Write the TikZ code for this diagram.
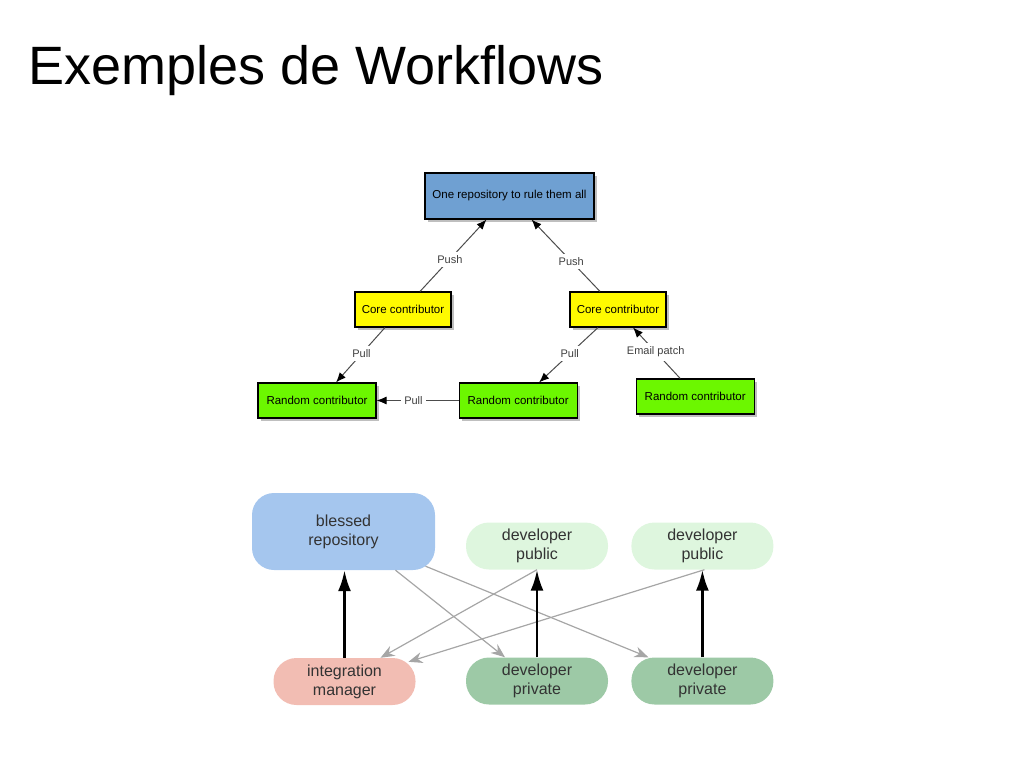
\documentclass[tikz,border=0pt]{standalone}
\usepackage{fontspec}
\setmainfont{Liberation Sans}
\usetikzlibrary{positioning,arrows.meta,shadows}

\definecolor{repoblue}{HTML}{6FA0D2}
\definecolor{coreyellow}{HTML}{FFFA00}
\definecolor{randgreen}{HTML}{6CF700}
\definecolor{blessedblue}{HTML}{A5C6EE}
\definecolor{pubgreen}{HTML}{DEF6DE}
\definecolor{privgreen}{HTML}{9DC9A6}
\definecolor{intpink}{HTML}{F2BDB3}

\tikzset{
  box/.style={draw=black, line width=1.1pt, minimum height=35pt,
    font=\fontsize{11.5}{13}\selectfont,
    drop shadow={opacity=0.5, shadow xshift=2.5pt, shadow yshift=-2.5pt}},
  mainrepo/.style={box, fill=repoblue, minimum width=169pt, minimum height=46pt},
  core/.style={box, fill=coreyellow, minimum width=96pt},
  random/.style={box, fill=randgreen, minimum width=118pt},
  flow/.style={draw=black!70, line width=1pt, -{Latex[length=10pt,width=8pt,black]}},
  lbl/.style={fill=white, inner sep=3.5pt, text=black!75, font=\fontsize{11}{12}\selectfont},
  pill/.style={rounded corners=23pt, minimum width=142pt, minimum height=47pt,
    align=center, text=black!80, font=\fontsize{16}{19}\selectfont},
  share/.style={draw=black!35, line width=1.2pt, -{Stealth[length=14pt,width=11pt]}},
  push/.style={draw=black, line width=2.8pt, -{Latex[length=21pt,width=13pt]}},
}

\begin{document}
\begin{tikzpicture}[x=1pt, y=-1pt]
        \useasboundingbox (0,0) rectangle (1024,768);

        % TITLE
        % -----------------
        \node[anchor=base west, inner sep=0pt, font=\fontsize{54}{60}\selectfont] (title) at (28,84) {Exemples de Workflows};

        % NODES (centralized)
        % -----------------

        \node[mainrepo]               (repo)  at (509.5,196) {One repository to rule them all};
        \node[core]                   (coreL) at (403,309.5) {Core contributor};
        \node[core]                   (coreR) at (618,309.5) {Core contributor};
        \node[random]                 (rand1) at (317,400.5) {Random contributor};
        \node[random, right=82pt of rand1]             (rand2) {Random contributor};
        \node[random, right=58pt of rand2, yshift=4pt] (rand3) {Random contributor};

        % EDGES (centralized)
        % -----------------

        \draw[flow] ([xshift=17pt]coreL.north) -- node[lbl, pos=0.45] {Push} ([xshift=-23pt]repo.south);
        \draw[flow] ([xshift=-18pt]coreR.north) -- node[lbl, pos=0.42] {Push} ([xshift=22pt]repo.south);
        \draw[flow] ([xshift=-18pt]coreL.south) -- node[lbl, pos=0.48] {Pull} ([xshift=19pt]rand1.north);
        \draw[flow] ([xshift=-20pt]coreR.south) -- node[lbl, pos=0.48] {Pull} ([xshift=21pt]rand2.north);
        \draw[flow] ([xshift=-15pt]rand3.north) -- node[lbl, pos=0.52] {Email patch} ([xshift=15pt]coreR.south);
        \draw[flow] (rand2.west) -- node[lbl, pos=0.55] {Pull} (rand1.east);

        % NODES (integration manager)
        % -----------------

        \node[pill, fill=blessedblue, rounded corners=22pt, minimum width=183pt, minimum height=77pt]
                                      (blessed) at (343.5,531.5) {blessed\\repository};
        \node[pill, fill=pubgreen]    (pub1)  at (537,546) {developer\\public};
        \node[pill, fill=pubgreen, right=23pt of pub1]   (pub2)  {developer\\public};
        \node[pill, fill=intpink]     (integ) at (344.5,681.5) {integration\\manager};
        \node[pill, fill=privgreen]   (priv1) at (537,681) {developer\\private};
        \node[pill, fill=privgreen, right=23pt of priv1] (priv2) {developer\\private};

        % EDGES (integration manager)
        % -----------------

        \draw[share] ([xshift=52pt]blessed.south) -- ([xshift=-32pt]priv1.north);
        \draw[share] ([xshift=82pt, yshift=4pt]blessed.south) -- ([xshift=-54pt]priv2.north);
        \draw[share] (pub1.south) -- ([xshift=36pt]integ.north);
        \draw[share] ([xshift=2pt]pub2.south) -- ([xshift=64pt, yshift=-4pt]integ.north);

        \draw[push] (integ.north) -- (integ.north |- blessed.south);
        \draw[push] (priv1.north) -- (pub1.south);
        \draw[push] (priv2.north) -- (pub2.south);

\end{tikzpicture}
\end{document}
